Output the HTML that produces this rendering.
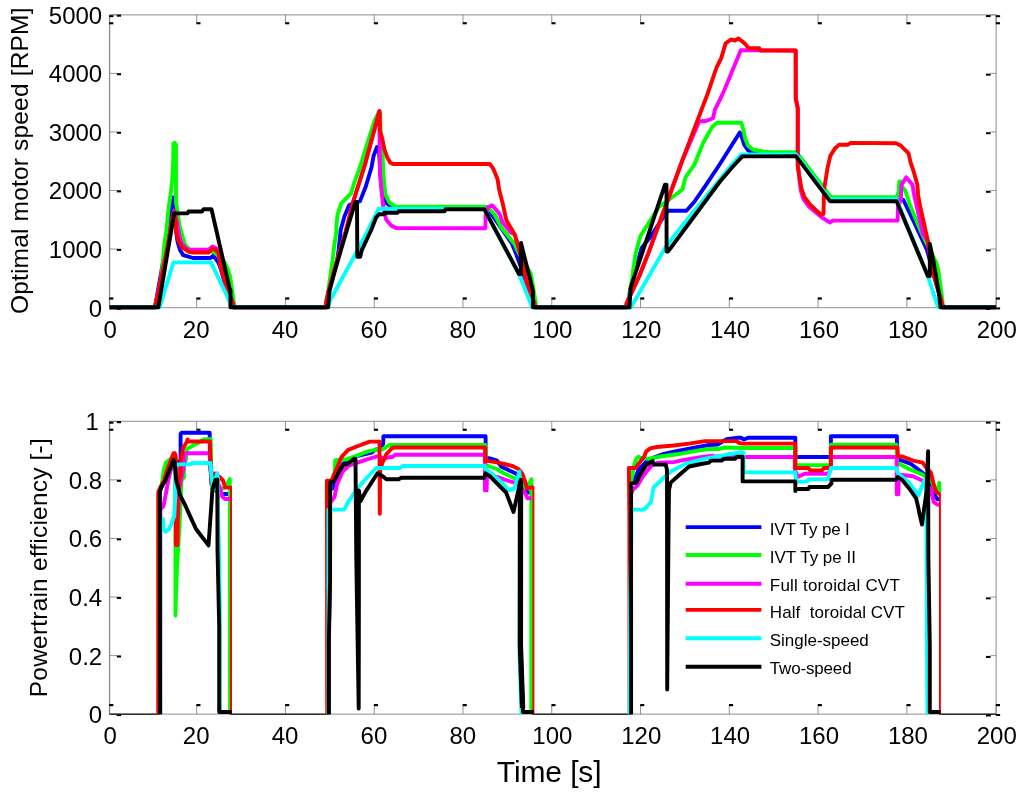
<!DOCTYPE html>
<html><head><meta charset="utf-8"><title>Powertrain comparison</title>
<style>html,body{margin:0;padding:0;background:#fff}svg{display:block}text{font-family:"Liberation Sans",Arial,sans-serif;fill:#000}</style></head><body>
<svg width="1024" height="794" viewBox="0 0 1024 794">
<rect width="1024" height="794" fill="#fff"/>
<g stroke="#a6a6a6" stroke-width="1.3" fill="none">
<line x1="109.55" y1="14.80" x2="996.10" y2="14.80"/>
<line x1="996.10" y1="14.80" x2="996.10" y2="307.60"/>
<line x1="109.55" y1="14.80" x2="109.55" y2="307.60" stroke="#8c8c8c"/>
<line x1="109.55" y1="307.60" x2="996.10" y2="307.60"/>
</g>
<g stroke="#7a7a7a" stroke-width="0.8">
<line x1="109.50" y1="14.80" x2="109.50" y2="22.80"/>
<line x1="109.50" y1="307.60" x2="109.50" y2="298.60"/>
<line x1="196.67" y1="14.80" x2="196.67" y2="22.80"/>
<line x1="196.67" y1="307.60" x2="196.67" y2="298.60"/>
<line x1="285.44" y1="14.80" x2="285.44" y2="22.80"/>
<line x1="285.44" y1="307.60" x2="285.44" y2="298.60"/>
<line x1="374.21" y1="14.80" x2="374.21" y2="22.80"/>
<line x1="374.21" y1="307.60" x2="374.21" y2="298.60"/>
<line x1="462.98" y1="14.80" x2="462.98" y2="22.80"/>
<line x1="462.98" y1="307.60" x2="462.98" y2="298.60"/>
<line x1="551.75" y1="14.80" x2="551.75" y2="22.80"/>
<line x1="551.75" y1="307.60" x2="551.75" y2="298.60"/>
<line x1="640.52" y1="14.80" x2="640.52" y2="22.80"/>
<line x1="640.52" y1="307.60" x2="640.52" y2="298.60"/>
<line x1="729.29" y1="14.80" x2="729.29" y2="22.80"/>
<line x1="729.29" y1="307.60" x2="729.29" y2="298.60"/>
<line x1="818.06" y1="14.80" x2="818.06" y2="22.80"/>
<line x1="818.06" y1="307.60" x2="818.06" y2="298.60"/>
<line x1="906.83" y1="14.80" x2="906.83" y2="22.80"/>
<line x1="906.83" y1="307.60" x2="906.83" y2="298.60"/>
<line x1="996.10" y1="14.80" x2="996.10" y2="22.80"/>
<line x1="996.10" y1="307.60" x2="996.10" y2="298.60"/>
<line x1="109.55" y1="14.80" x2="117.05" y2="14.80"/>
<line x1="996.10" y1="14.80" x2="990.60" y2="14.80"/>
<line x1="109.55" y1="73.36" x2="117.05" y2="73.36"/>
<line x1="996.10" y1="73.36" x2="990.60" y2="73.36"/>
<line x1="109.55" y1="131.92" x2="117.05" y2="131.92"/>
<line x1="996.10" y1="131.92" x2="990.60" y2="131.92"/>
<line x1="109.55" y1="190.48" x2="117.05" y2="190.48"/>
<line x1="996.10" y1="190.48" x2="990.60" y2="190.48"/>
<line x1="109.55" y1="249.04" x2="117.05" y2="249.04"/>
<line x1="996.10" y1="249.04" x2="990.60" y2="249.04"/>
<line x1="109.55" y1="307.60" x2="117.05" y2="307.60"/>
<line x1="996.10" y1="307.60" x2="990.60" y2="307.60"/>
</g>
<g fill="#000">
<rect x="109.20" y="22.20" width="4.1" height="2.1"/>
<rect x="109.20" y="297.40" width="4.1" height="2.2"/>
<rect x="196.37" y="22.20" width="4.1" height="2.1"/>
<rect x="196.37" y="297.40" width="4.1" height="2.2"/>
<rect x="285.14" y="22.20" width="4.1" height="2.1"/>
<rect x="285.14" y="297.40" width="4.1" height="2.2"/>
<rect x="373.91" y="22.20" width="4.1" height="2.1"/>
<rect x="373.91" y="297.40" width="4.1" height="2.2"/>
<rect x="462.68" y="22.20" width="4.1" height="2.1"/>
<rect x="462.68" y="297.40" width="4.1" height="2.2"/>
<rect x="551.45" y="22.20" width="4.1" height="2.1"/>
<rect x="551.45" y="297.40" width="4.1" height="2.2"/>
<rect x="640.22" y="22.20" width="4.1" height="2.1"/>
<rect x="640.22" y="297.40" width="4.1" height="2.2"/>
<rect x="728.99" y="22.20" width="4.1" height="2.1"/>
<rect x="728.99" y="297.40" width="4.1" height="2.2"/>
<rect x="817.76" y="22.20" width="4.1" height="2.1"/>
<rect x="817.76" y="297.40" width="4.1" height="2.2"/>
<rect x="906.53" y="22.20" width="4.1" height="2.1"/>
<rect x="906.53" y="297.40" width="4.1" height="2.2"/>
<rect x="995.90" y="22.20" width="4.1" height="2.1"/>
<rect x="995.90" y="297.40" width="4.1" height="2.2"/>
<rect x="116.85" y="14.60" width="4.2" height="2.1"/>
<rect x="986.00" y="15.10" width="4.6" height="2.0"/>
<rect x="116.85" y="73.16" width="4.2" height="2.1"/>
<rect x="986.00" y="73.66" width="4.6" height="2.0"/>
<rect x="116.85" y="131.72" width="4.2" height="2.1"/>
<rect x="986.00" y="132.22" width="4.6" height="2.0"/>
<rect x="116.85" y="190.28" width="4.2" height="2.1"/>
<rect x="986.00" y="190.78" width="4.6" height="2.0"/>
<rect x="116.85" y="248.84" width="4.2" height="2.1"/>
<rect x="986.00" y="249.34" width="4.6" height="2.0"/>
<rect x="116.85" y="307.40" width="4.2" height="2.1"/>
<rect x="986.00" y="307.90" width="4.6" height="2.0"/>
<rect x="109.25" y="15.20" width="4.2" height="2.0"/>
<rect x="995.90" y="15.20" width="4.2" height="2.0"/>
<rect x="995.90" y="307.40" width="4.2" height="2.0"/>
</g>
<g font-size="24px">
<text x="110.20" y="337.60" text-anchor="middle">0</text>
<text x="196.17" y="337.60" text-anchor="middle">20</text>
<text x="285.07" y="337.60" text-anchor="middle">40</text>
<text x="373.96" y="337.60" text-anchor="middle">60</text>
<text x="462.86" y="337.60" text-anchor="middle">80</text>
<text x="552.35" y="337.60" text-anchor="middle">100</text>
<text x="641.25" y="337.60" text-anchor="middle">120</text>
<text x="730.14" y="337.60" text-anchor="middle">140</text>
<text x="819.04" y="337.60" text-anchor="middle">160</text>
<text x="907.93" y="337.60" text-anchor="middle">180</text>
<text x="996.73" y="337.60" text-anchor="middle">200</text>
<text x="102.20" y="23.70" text-anchor="end">5000</text>
<text x="102.20" y="82.26" text-anchor="end">4000</text>
<text x="102.20" y="140.82" text-anchor="end">3000</text>
<text x="102.20" y="199.38" text-anchor="end">2000</text>
<text x="102.20" y="257.94" text-anchor="end">1000</text>
<text x="102.20" y="316.50" text-anchor="end">0</text>
</g>
<polyline points="109.50,307.30 155.00,307.30 166.30,243.50 169.00,224.00 170.80,210.00 172.50,197.50 173.20,197.50 175.00,206.00 175.90,222.00 176.20,232.00 177.60,242.00 180.00,250.00 183.20,255.10 193.00,258.00 210.50,258.00 213.50,255.60 218.40,262.50 220.50,268.00 225.50,286.00 232.00,304.00 233.00,307.30 326.50,307.30 329.00,290.00 334.50,270.00 337.20,260.00 338.60,250.00 340.70,230.00 344.30,216.80 349.20,205.00 360.00,201.10 365.80,186.50 371.60,167.00 373.60,155.70 377.00,147.00 379.00,150.00 380.50,175.00 382.50,195.00 386.30,203.00 392.00,207.50 487.00,207.80 492.00,215.00 511.80,243.30 516.60,255.00 534.00,304.00 535.00,307.30 626.50,307.30 629.50,295.00 635.00,272.00 641.60,248.00 650.00,237.50 663.00,217.60 668.00,210.80 686.40,210.80 694.20,202.00 705.00,186.40 718.30,166.50 739.80,132.50 741.50,136.00 744.20,144.70 748.10,150.50 760.80,154.00 796.00,154.50 830.00,199.50 897.00,199.50 903.40,200.00 914.20,222.30 926.90,249.70 941.00,300.00 942.00,307.30 996.00,307.30" stroke="#0000ff" stroke-width="3.90" fill="none" stroke-linejoin="round" />
<polyline points="109.50,307.30 155.50,307.30 160.25,284.00 162.20,268.30 164.50,243.00 166.50,230.00 168.50,209.00 170.50,195.00 172.30,180.00 173.30,160.00 173.40,144.00 174.70,142.70 176.00,145.00 176.00,202.50 177.60,212.00 179.80,226.90 184.90,244.50 190.00,250.00 210.00,251.00 214.50,252.70 219.00,256.00 224.50,262.00 227.60,268.30 230.00,276.00 233.00,296.60 234.50,307.30 326.50,307.30 329.00,285.00 330.50,275.00 332.60,260.00 334.60,243.00 336.50,231.00 336.30,227.00 337.50,214.80 341.40,203.10 351.10,193.30 354.30,182.60 360.00,167.00 374.30,121.00 378.80,112.00 380.30,113.00 380.60,131.00 381.60,140.00 382.60,150.00 382.90,162.50 383.40,174.80 385.30,194.30 389.20,202.10 395.00,206.50 486.90,206.60 494.70,214.50 501.00,227.00 514.70,244.30 517.60,251.00 531.00,274.00 535.90,304.60 536.50,307.30 627.00,307.30 632.00,279.00 635.40,254.50 640.40,236.00 659.00,206.90 677.60,193.20 682.50,189.30 685.40,177.60 694.20,165.00 703.20,142.70 712.00,127.10 716.90,122.70 741.30,122.70 743.20,129.00 745.20,138.80 748.10,145.70 753.00,149.60 762.80,151.50 770.00,152.30 796.50,152.30 831.00,197.30 896.90,197.20 898.50,192.00 899.30,181.50 900.30,181.50 901.50,186.00 905.20,190.50 910.50,206.50 922.00,234.00 936.60,263.40 938.60,272.00 942.00,297.00 943.00,307.30 996.00,307.30" stroke="#00ff00" stroke-width="3.90" fill="none" stroke-linejoin="round" />
<polyline points="109.50,307.30 154.80,307.30 157.75,294.70 165.60,257.00 169.50,236.60 172.80,216.00 174.50,211.00 177.00,222.00 179.30,236.00 181.50,243.00 186.00,248.50 190.00,249.80 208.60,249.80 212.50,246.50 216.00,248.00 219.00,252.00 220.30,264.40 225.20,283.00 233.00,303.50 234.00,307.30 325.50,307.30 326.50,300.00 328.80,290.40 334.30,270.30 340.10,250.10 345.60,232.00 353.60,200.50 364.80,165.00 379.30,111.50 379.50,133.00 380.00,174.80 381.90,194.30 383.40,208.00 386.30,219.70 391.20,225.50 396.00,228.00 485.40,228.20 485.60,215.00 488.00,207.30 492.20,205.40 498.60,212.50 500.00,215.00 502.50,222.30 510.80,232.60 514.70,234.50 518.60,247.20 522.50,263.80 526.40,281.40 534.50,304.00 535.00,307.30 626.00,307.30 626.60,303.40 639.30,276.00 649.00,251.60 655.00,235.00 682.50,160.00 699.30,121.25 706.00,121.00 713.00,118.30 715.00,109.50 719.80,99.80 724.40,90.00 740.80,50.30 795.70,50.50 795.90,98.60 797.90,108.40 797.90,164.70 799.20,177.60 801.00,191.30 803.50,199.10 809.40,207.00 822.00,217.60 830.00,222.50 832.80,220.60 897.60,220.60 898.00,207.00 900.80,200.00 901.50,185.00 906.20,177.20 912.50,184.70 914.20,195.00 916.90,207.00 923.00,234.00 927.90,240.90 930.80,262.40 932.70,272.00 942.50,305.00 943.00,307.30 996.00,307.30" stroke="#ff00ff" stroke-width="3.90" fill="none" stroke-linejoin="round" />
<polyline points="109.50,307.30 154.80,307.30 157.75,294.70 165.60,257.00 169.50,236.60 172.80,216.00 174.00,212.00 175.90,222.00 175.90,230.80 178.30,240.50 182.20,247.40 189.00,251.80 193.00,252.50 208.60,252.50 212.50,248.60 215.00,249.50 218.40,252.70 220.30,264.40 225.20,283.00 233.00,303.50 234.00,307.30 325.50,307.30 326.50,300.00 328.80,290.40 334.30,270.30 340.10,250.10 345.60,232.00 353.60,200.50 364.80,165.00 379.50,111.00 380.00,131.00 382.40,139.00 384.30,148.80 387.30,157.60 390.20,162.50 393.10,164.00 489.80,163.90 493.20,168.60 497.60,179.30 499.00,189.00 502.50,202.70 506.40,220.30 510.30,227.00 514.70,234.50 518.60,247.20 522.50,263.80 526.40,281.40 534.50,304.00 535.00,307.30 626.00,307.30 626.60,303.40 639.30,276.00 649.00,251.60 655.00,235.00 682.50,160.00 707.50,94.00 716.40,67.90 721.25,58.10 725.60,43.40 731.00,39.50 734.90,40.50 738.50,38.50 744.70,43.40 748.60,48.30 759.30,48.30 760.30,50.50 795.70,50.50 795.70,98.60 797.70,108.40 797.60,164.70 799.20,175.60 801.60,189.30 804.50,197.10 810.40,205.00 821.10,214.70 823.50,214.00 824.00,189.30 826.00,177.60 827.40,168.60 830.30,155.90 835.20,148.10 839.10,144.70 847.90,144.70 850.80,142.90 895.90,143.20 900.80,145.60 908.60,153.40 910.50,162.20 913.50,171.00 917.40,184.70 918.10,195.00 920.30,207.00 927.90,240.90 930.80,262.40 932.70,272.00 942.50,305.00 943.00,307.30 996.00,307.30" stroke="#ff0000" stroke-width="3.90" fill="none" stroke-linejoin="round" />
<polyline points="109.50,307.30 159.50,307.30 173.50,262.40 211.00,262.40 229.00,300.00 231.00,307.30 328.00,307.30 330.10,300.50 354.80,255.20 365.50,235.00 378.60,208.80 484.00,208.80 519.00,274.00 530.00,301.60 532.00,307.30 631.00,307.30 664.70,248.70 674.80,235.00 719.00,180.50 731.00,165.50 741.00,154.50 796.00,154.30 830.00,199.20 896.60,199.20 927.80,276.00 937.60,305.80 938.50,307.30 996.00,307.30" stroke="#00ffff" stroke-width="3.90" fill="none" stroke-linejoin="round" />
<polyline points="109.50,307.30 158.30,307.30 174.20,213.40 187.50,213.40 188.50,211.50 202.00,211.50 203.50,209.30 211.50,209.30 229.50,288.00 230.50,290.00 230.50,307.30 328.10,307.30 329.60,290.40 335.10,270.30 340.90,250.10 346.90,230.00 355.30,202.30 357.00,202.30 357.30,256.70 360.20,256.70 361.80,250.10 371.20,230.00 376.00,217.70 379.00,214.20 384.00,214.20 385.00,212.70 397.50,212.70 398.50,211.25 444.50,211.25 445.50,209.30 484.40,209.30 519.00,274.00 521.00,274.00 521.00,243.00 533.00,291.00 533.00,307.30 629.50,307.30 630.50,288.00 665.00,184.60 666.50,184.60 666.60,251.60 668.00,251.60 680.30,235.00 720.00,181.50 732.50,167.00 742.30,156.40 796.10,156.30 830.00,201.20 896.60,201.30 927.80,276.00 929.80,276.00 929.80,243.80 933.20,259.90 939.00,294.00 940.50,307.30 996.00,307.30" stroke="#000000" stroke-width="3.90" fill="none" stroke-linejoin="round" />
<rect x="986" y="308.2" width="4.4" height="1.6" fill="#000"/>
<rect x="116.9" y="308.4" width="4.2" height="1.4" fill="#000"/>
<g stroke="#a6a6a6" stroke-width="1.3" fill="none">
<line x1="109.55" y1="421.30" x2="996.10" y2="421.30"/>
<line x1="996.10" y1="421.30" x2="996.10" y2="714.20"/>
<line x1="109.55" y1="421.30" x2="109.55" y2="714.20" stroke="#8c8c8c"/>
<line x1="109.55" y1="714.20" x2="996.10" y2="714.20"/>
</g>
<g stroke="#7a7a7a" stroke-width="0.8">
<line x1="109.50" y1="421.30" x2="109.50" y2="429.30"/>
<line x1="109.50" y1="714.20" x2="109.50" y2="705.20"/>
<line x1="196.67" y1="421.30" x2="196.67" y2="429.30"/>
<line x1="196.67" y1="714.20" x2="196.67" y2="705.20"/>
<line x1="285.44" y1="421.30" x2="285.44" y2="429.30"/>
<line x1="285.44" y1="714.20" x2="285.44" y2="705.20"/>
<line x1="374.21" y1="421.30" x2="374.21" y2="429.30"/>
<line x1="374.21" y1="714.20" x2="374.21" y2="705.20"/>
<line x1="462.98" y1="421.30" x2="462.98" y2="429.30"/>
<line x1="462.98" y1="714.20" x2="462.98" y2="705.20"/>
<line x1="551.75" y1="421.30" x2="551.75" y2="429.30"/>
<line x1="551.75" y1="714.20" x2="551.75" y2="705.20"/>
<line x1="640.52" y1="421.30" x2="640.52" y2="429.30"/>
<line x1="640.52" y1="714.20" x2="640.52" y2="705.20"/>
<line x1="729.29" y1="421.30" x2="729.29" y2="429.30"/>
<line x1="729.29" y1="714.20" x2="729.29" y2="705.20"/>
<line x1="818.06" y1="421.30" x2="818.06" y2="429.30"/>
<line x1="818.06" y1="714.20" x2="818.06" y2="705.20"/>
<line x1="906.83" y1="421.30" x2="906.83" y2="429.30"/>
<line x1="906.83" y1="714.20" x2="906.83" y2="705.20"/>
<line x1="996.10" y1="421.30" x2="996.10" y2="429.30"/>
<line x1="996.10" y1="714.20" x2="996.10" y2="705.20"/>
<line x1="109.55" y1="421.30" x2="117.05" y2="421.30"/>
<line x1="996.10" y1="421.30" x2="990.60" y2="421.30"/>
<line x1="109.55" y1="479.88" x2="117.05" y2="479.88"/>
<line x1="996.10" y1="479.88" x2="990.60" y2="479.88"/>
<line x1="109.55" y1="538.46" x2="117.05" y2="538.46"/>
<line x1="996.10" y1="538.46" x2="990.60" y2="538.46"/>
<line x1="109.55" y1="597.04" x2="117.05" y2="597.04"/>
<line x1="996.10" y1="597.04" x2="990.60" y2="597.04"/>
<line x1="109.55" y1="655.62" x2="117.05" y2="655.62"/>
<line x1="996.10" y1="655.62" x2="990.60" y2="655.62"/>
<line x1="109.55" y1="714.20" x2="117.05" y2="714.20"/>
<line x1="996.10" y1="714.20" x2="990.60" y2="714.20"/>
</g>
<g fill="#000">
<rect x="109.20" y="428.70" width="4.1" height="2.1"/>
<rect x="109.20" y="704.00" width="4.1" height="2.2"/>
<rect x="196.37" y="428.70" width="4.1" height="2.1"/>
<rect x="196.37" y="704.00" width="4.1" height="2.2"/>
<rect x="285.14" y="428.70" width="4.1" height="2.1"/>
<rect x="285.14" y="704.00" width="4.1" height="2.2"/>
<rect x="373.91" y="428.70" width="4.1" height="2.1"/>
<rect x="373.91" y="704.00" width="4.1" height="2.2"/>
<rect x="462.68" y="428.70" width="4.1" height="2.1"/>
<rect x="462.68" y="704.00" width="4.1" height="2.2"/>
<rect x="551.45" y="428.70" width="4.1" height="2.1"/>
<rect x="551.45" y="704.00" width="4.1" height="2.2"/>
<rect x="640.22" y="428.70" width="4.1" height="2.1"/>
<rect x="640.22" y="704.00" width="4.1" height="2.2"/>
<rect x="728.99" y="428.70" width="4.1" height="2.1"/>
<rect x="728.99" y="704.00" width="4.1" height="2.2"/>
<rect x="817.76" y="428.70" width="4.1" height="2.1"/>
<rect x="817.76" y="704.00" width="4.1" height="2.2"/>
<rect x="906.53" y="428.70" width="4.1" height="2.1"/>
<rect x="906.53" y="704.00" width="4.1" height="2.2"/>
<rect x="995.90" y="428.70" width="4.1" height="2.1"/>
<rect x="995.90" y="704.00" width="4.1" height="2.2"/>
<rect x="116.85" y="421.10" width="4.2" height="2.1"/>
<rect x="986.00" y="421.60" width="4.6" height="2.0"/>
<rect x="116.85" y="479.68" width="4.2" height="2.1"/>
<rect x="986.00" y="480.18" width="4.6" height="2.0"/>
<rect x="116.85" y="538.26" width="4.2" height="2.1"/>
<rect x="986.00" y="538.76" width="4.6" height="2.0"/>
<rect x="116.85" y="596.84" width="4.2" height="2.1"/>
<rect x="986.00" y="597.34" width="4.6" height="2.0"/>
<rect x="116.85" y="655.42" width="4.2" height="2.1"/>
<rect x="986.00" y="655.92" width="4.6" height="2.0"/>
<rect x="116.85" y="714.00" width="4.2" height="2.1"/>
<rect x="986.00" y="714.50" width="4.6" height="2.0"/>
<rect x="109.25" y="421.70" width="4.2" height="2.0"/>
<rect x="995.90" y="421.70" width="4.2" height="2.0"/>
<rect x="995.90" y="714.00" width="4.2" height="2.0"/>
</g>
<g font-size="24px">
<text x="110.20" y="744.30" text-anchor="middle">0</text>
<text x="196.17" y="744.30" text-anchor="middle">20</text>
<text x="285.07" y="744.30" text-anchor="middle">40</text>
<text x="373.96" y="744.30" text-anchor="middle">60</text>
<text x="462.86" y="744.30" text-anchor="middle">80</text>
<text x="552.35" y="744.30" text-anchor="middle">100</text>
<text x="641.25" y="744.30" text-anchor="middle">120</text>
<text x="730.14" y="744.30" text-anchor="middle">140</text>
<text x="819.04" y="744.30" text-anchor="middle">160</text>
<text x="907.93" y="744.30" text-anchor="middle">180</text>
<text x="996.73" y="744.30" text-anchor="middle">200</text>
<text x="98.80" y="430.20" text-anchor="end">1</text>
<text x="102.20" y="488.78" text-anchor="end">0.8</text>
<text x="102.20" y="547.36" text-anchor="end">0.6</text>
<text x="102.20" y="605.94" text-anchor="end">0.4</text>
<text x="102.20" y="664.52" text-anchor="end">0.2</text>
<text x="102.20" y="723.10" text-anchor="end">0</text>
</g>
<line x1="109.5" y1="714.2" x2="160.0" y2="714.2" stroke="#303030" stroke-width="1.5"/>
<line x1="232.0" y1="714.2" x2="330.0" y2="714.2" stroke="#303030" stroke-width="1.5"/>
<line x1="534.0" y1="714.2" x2="631.0" y2="714.2" stroke="#303030" stroke-width="1.5"/>
<line x1="941.0" y1="714.2" x2="996.0" y2="714.2" stroke="#303030" stroke-width="1.5"/>
<clipPath id="c2"><rect x="100" y="400" width="910" height="314.9"/></clipPath>
<g clip-path="url(#c2)">
<polyline points="159.00,714.20 159.00,494.00 166.00,474.00 174.00,457.00 176.50,462.00 180.60,461.00 180.60,434.00 181.60,432.70 209.70,432.70 209.90,462.00 212.00,488.00 218.00,492.00 222.00,494.00 230.00,494.00" stroke="#0000ff" stroke-width="3.90" fill="none" stroke-linejoin="round" />
<polyline points="328.50,714.20 328.50,490.00 332.60,488.50 336.00,475.00 343.30,463.50 350.00,459.00 358.00,455.80 371.60,452.60 375.50,449.50 380.00,449.50 383.20,443.50 383.40,436.20 485.60,436.20 485.60,458.20 489.00,458.20 497.00,460.50 501.00,466.50 516.40,473.80 520.00,480.00 524.00,490.00 527.60,492.50 531.00,492.50" stroke="#0000ff" stroke-width="3.90" fill="none" stroke-linejoin="round" />
<polyline points="630.00,714.20 631.00,485.00 634.50,479.70 638.40,470.00 646.25,461.60 655.00,457.00 663.80,453.80 677.50,450.90 693.10,448.00 708.75,445.00 717.70,444.50 726.50,439.20 738.20,437.70 741.00,437.70 744.00,439.60 748.00,437.70 795.30,437.70 795.30,457.00 830.90,457.00 830.90,436.20 896.90,436.20 897.20,459.20 902.20,460.60 911.00,464.00 922.70,472.90 928.00,480.00 932.00,492.00 937.60,499.30 940.00,499.30" stroke="#0000ff" stroke-width="3.90" fill="none" stroke-linejoin="round" />
<polyline points="158.50,714.20 158.50,495.00 161.60,486.40 163.80,470.00 166.00,462.60 170.00,459.50 174.30,456.00 175.50,460.00 175.50,615.50 175.80,600.00 177.00,567.00 179.50,527.00 181.50,480.00 184.00,477.60 184.00,467.00 186.00,459.00 187.00,449.00 194.80,444.50 200.00,442.00 202.50,439.80 204.00,439.30 210.80,439.30 211.00,460.00 212.00,488.00 220.00,490.00 225.60,487.00 229.80,479.00 230.00,714.20" stroke="#00ff00" stroke-width="3.90" fill="none" stroke-linejoin="round" />
<polyline points="328.70,714.20 328.70,640.00 330.00,580.00 330.30,482.00 332.60,478.00 334.80,471.00 335.20,460.50 337.00,460.00 347.20,459.20 358.00,455.30 367.70,451.40 377.50,449.40 382.40,449.40 389.20,445.00 485.40,445.00 485.60,464.00 488.00,466.00 496.90,469.00 504.70,473.80 514.50,478.20 520.00,482.00 524.00,488.00 528.10,485.50 531.60,479.20 531.30,493.00 531.30,714.20" stroke="#00ff00" stroke-width="3.90" fill="none" stroke-linejoin="round" />
<polyline points="630.00,714.20 631.10,480.70 634.50,464.00 636.50,458.50 638.40,456.70 641.40,458.20 649.20,458.70 661.90,456.25 677.50,454.30 693.10,451.40 708.75,449.00 718.70,449.00 724.50,447.50 742.60,448.00 795.30,448.00 795.50,465.30 830.70,465.30 830.90,444.70 896.50,444.70 897.00,462.00 899.30,464.00 909.00,469.00 922.70,474.80 925.70,477.00 931.00,479.00 933.50,486.00 936.40,492.00 938.00,489.00 939.30,482.80 939.30,493.00" stroke="#00ff00" stroke-width="3.90" fill="none" stroke-linejoin="round" />
<polyline points="160.30,714.20 160.30,511.00 161.00,508.50 163.50,506.00 166.30,491.70 168.40,480.00 169.60,474.70 171.50,468.00 174.30,458.00 177.50,470.00 178.30,516.00 179.00,490.00 184.50,463.00 184.30,453.20 210.00,453.20 210.50,470.00 216.00,480.00 220.20,488.00 222.10,496.60 225.10,499.00 230.00,499.00" stroke="#ff00ff" stroke-width="3.90" fill="none" stroke-linejoin="round" />
<polyline points="328.70,714.20 328.70,640.00 329.90,580.00 329.90,503.00 332.50,499.50 334.50,497.00 337.00,484.50 342.60,471.50 348.20,466.00 359.00,462.10 367.70,459.20 377.50,456.25 383.40,458.20 393.10,456.70 395.00,454.80 484.80,454.80 485.00,490.40 486.60,490.40 487.00,476.00 496.90,476.80 504.70,479.70 514.50,482.60 520.00,487.00 524.50,491.80 527.60,498.30 531.50,498.30" stroke="#ff00ff" stroke-width="3.90" fill="none" stroke-linejoin="round" />
<polyline points="631.00,714.20 631.00,494.00 633.00,489.50 637.50,485.50 643.30,475.80 651.10,466.00 658.00,462.60 673.60,462.10 685.30,459.70 701.00,457.20 712.70,455.80 714.80,456.50 742.60,457.00 794.80,457.00 794.80,470.00 798.20,476.80 804.50,473.80 828.00,473.80 830.50,470.00 830.90,457.00 896.60,457.00 896.80,494.40 898.40,494.40 898.80,476.00 900.30,474.80 913.00,476.30 922.70,480.70 927.00,485.00 930.80,489.00 933.70,502.20 937.60,504.70 939.50,504.70" stroke="#ff00ff" stroke-width="3.90" fill="none" stroke-linejoin="round" />
<polyline points="158.30,714.20 158.30,492.00 160.50,487.00 164.05,480.30 167.10,470.20 171.00,460.00 173.50,453.30 175.00,453.30 175.80,457.00 175.80,545.00 177.50,545.00 178.00,500.00 179.00,480.00 180.60,474.70 180.80,461.00 181.10,459.00 183.10,448.30 187.00,441.50 187.50,439.50 189.00,441.50 209.90,441.50 210.60,462.00 211.60,484.00 213.50,478.00 215.30,473.50 219.00,476.50 223.10,480.50 225.10,487.40 231.00,487.60" stroke="#ff0000" stroke-width="3.90" fill="none" stroke-linejoin="round" />
<polyline points="327.20,714.20 326.90,480.70 331.60,480.70 336.50,469.00 341.40,457.20 348.20,449.90 358.00,446.00 369.70,441.60 379.50,441.60 379.80,513.70 380.20,470.00 382.40,463.00 386.30,454.30 392.10,448.00 395.00,447.50 485.20,447.50 485.40,461.10 489.00,461.10 500.80,463.10 512.50,466.00 518.40,469.00 522.30,473.80 525.20,481.60 527.10,488.50 533.40,487.00" stroke="#ff0000" stroke-width="3.90" fill="none" stroke-linejoin="round" />
<polyline points="629.60,714.20 629.40,520.00 628.90,468.00 635.50,468.00 644.30,456.25 646.25,451.40 650.20,448.40 657.00,447.00 673.60,445.50 689.20,443.60 704.80,441.10 736.25,441.10 739.20,443.00 742.60,443.60 795.30,443.60 795.30,468.00 808.00,468.00 810.40,470.40 822.10,470.40 824.00,468.00 830.90,468.00 830.90,447.50 897.60,447.50 897.90,456.25 903.20,456.70 913.00,460.60 922.70,462.60 925.70,467.00 931.00,472.90 933.50,483.60 936.40,492.40 940.00,494.30" stroke="#ff0000" stroke-width="3.90" fill="none" stroke-linejoin="round" />
<rect x="230" y="486" width="2" height="229" fill="#ff0000"/>
<rect x="532.4" y="486" width="2.0" height="229" fill="#ff0000"/>
<rect x="939" y="493" width="1.9" height="222" fill="#ff0000"/>
<polyline points="160.20,714.20 160.20,519.00 163.00,519.00 163.50,528.80 165.50,531.80 169.40,528.80 174.30,516.00 175.30,497.00 175.30,466.90 177.20,464.40 190.90,464.40 192.00,463.00 210.40,463.00 211.40,474.70 212.40,483.50 213.40,489.80 215.00,480.00 217.30,473.20 218.00,480.00 218.20,520.00 219.30,560.00 220.00,627.00 220.00,714.20" stroke="#00ffff" stroke-width="3.90" fill="none" stroke-linejoin="round" />
<polyline points="328.50,714.20 328.50,509.60 344.30,509.60 348.20,502.00 358.00,487.50 369.70,474.80 375.50,468.50 377.50,468.00 400.00,468.00 402.90,466.00 485.00,466.00 485.20,469.00 491.00,472.90 500.80,481.60 508.80,490.00 514.50,488.50 519.30,471.70 520.00,480.00 519.50,655.00 521.50,714.20" stroke="#00ffff" stroke-width="3.90" fill="none" stroke-linejoin="round" />
<polyline points="629.50,714.20 630.20,600.00 631.20,540.00 631.20,509.60 644.30,509.60 651.00,502.00 653.60,487.50 663.80,477.70 671.60,470.90 685.30,464.00 701.00,459.70 712.70,457.20 714.80,457.20 728.40,454.30 742.10,452.30 743.50,453.00 743.50,472.40 795.30,472.40 796.00,481.60 806.50,481.60 809.40,479.20 828.00,479.20 830.90,468.00 896.00,468.00 898.30,473.80 909.00,482.60 918.50,495.40 924.10,481.00 926.00,478.00 926.50,528.00 926.90,645.00 927.50,714.20" stroke="#00ffff" stroke-width="3.90" fill="none" stroke-linejoin="round" />
<polyline points="160.10,714.20 159.90,490.50 161.50,487.00 165.60,480.30 169.40,470.20 173.70,460.00 174.60,462.00 176.20,480.30 180.20,495.40 185.30,505.50 190.30,516.60 196.00,529.00 208.50,545.40 212.40,489.80 215.30,480.00 217.30,479.60 217.50,550.00 219.20,627.00 219.20,712.00 231.90,712.00" stroke="#000000" stroke-width="3.90" fill="none" stroke-linejoin="round" />
<polyline points="328.90,714.20 328.90,640.00 330.10,580.00 330.10,482.60 334.50,480.70 339.40,470.90 343.30,465.00 348.20,463.60 354.00,458.70 355.50,459.00 356.30,560.00 358.70,708.50 358.90,600.00 358.90,490.50 360.60,501.00 365.80,491.40 377.50,473.30 383.40,476.80 386.30,479.20 399.00,479.20 401.00,477.70 484.20,477.70 485.60,473.40 489.50,475.90 506.10,492.50 513.50,512.00 520.80,479.80 520.50,645.00 523.00,710.00 523.00,712.00 533.70,712.00" stroke="#000000" stroke-width="3.90" fill="none" stroke-linejoin="round" />
<polyline points="631.10,714.20 631.10,483.60 636.50,482.60 640.40,473.80 646.25,465.00 652.60,461.10 654.00,464.60 665.80,464.60 667.00,470.00 667.20,689.50 668.50,531.00 669.00,490.00 670.70,482.60 679.50,474.80 689.20,466.50 701.00,464.00 709.00,462.60 710.90,460.60 721.60,460.60 724.00,458.70 735.30,458.70 737.20,456.70 742.60,456.70 742.60,481.40 795.30,481.40 795.30,491.00 796.00,489.00 808.40,489.00 809.50,487.00 828.00,487.00 831.40,483.60 831.60,479.70 896.00,479.70 897.70,477.00 902.40,480.20 909.20,488.50 916.10,498.30 918.60,509.00 919.30,513.00 922.00,524.50 924.30,507.00 926.50,492.00 928.10,451.30 928.40,560.00 929.80,645.00 929.80,712.00 940.80,712.00" stroke="#000000" stroke-width="3.90" fill="none" stroke-linejoin="round" />
<polyline points="520.5,481 520.4,645 522.6,708" stroke="#000" stroke-width="5.3" fill="none"/>
</g>
<rect x="116.8" y="714.3" width="4.2" height="1.7" fill="#000"/>
<rect x="986" y="714.3" width="4.6" height="1.7" fill="#000"/>
<g font-size="17px">
<line x1="685.7" y1="527.1" x2="761.4" y2="527.1" stroke="#0000ff" stroke-width="3.9"/>
<text x="769.8" y="535.0" textLength="80.0" lengthAdjust="spacing" xml:space="preserve">IVT Ty pe I</text>
<line x1="685.7" y1="555.0" x2="761.4" y2="555.0" stroke="#00ff00" stroke-width="3.9"/>
<text x="769.8" y="562.9" textLength="86.1" lengthAdjust="spacing" xml:space="preserve">IVT Ty pe II</text>
<line x1="685.7" y1="583.7" x2="761.4" y2="583.7" stroke="#ff00ff" stroke-width="3.9"/>
<text x="769.8" y="591.3" textLength="130.0" lengthAdjust="spacing" xml:space="preserve">Full toroidal CVT</text>
<line x1="685.7" y1="609.9" x2="761.4" y2="609.9" stroke="#ff0000" stroke-width="3.9"/>
<text x="769.8" y="617.5" textLength="135.1" lengthAdjust="spacing" xml:space="preserve">Half  toroidal CVT</text>
<line x1="685.7" y1="638.3" x2="761.4" y2="638.3" stroke="#00ffff" stroke-width="3.9"/>
<text x="769.8" y="645.9" textLength="99.0" lengthAdjust="spacing" xml:space="preserve">Single-speed</text>
<line x1="685.7" y1="666.8" x2="761.4" y2="666.8" stroke="#000000" stroke-width="3.9"/>
<text x="769.8" y="674.4" textLength="81.8" lengthAdjust="spacing" xml:space="preserve">Two-speed</text>
</g>
<text transform="translate(28.4,160.8) rotate(-90)" text-anchor="middle" font-size="24.5px" textLength="306.5" lengthAdjust="spacing">Optimal motor speed [RPM]</text>
<text transform="translate(47.2,567.7) rotate(-90)" text-anchor="middle" font-size="24.5px" textLength="259" lengthAdjust="spacing">Powertrain efficiency [-]</text>
<text x="549.2" y="781.7" text-anchor="middle" font-size="30px" textLength="104.8" lengthAdjust="spacing">Time [s]</text>
</svg></body></html>
